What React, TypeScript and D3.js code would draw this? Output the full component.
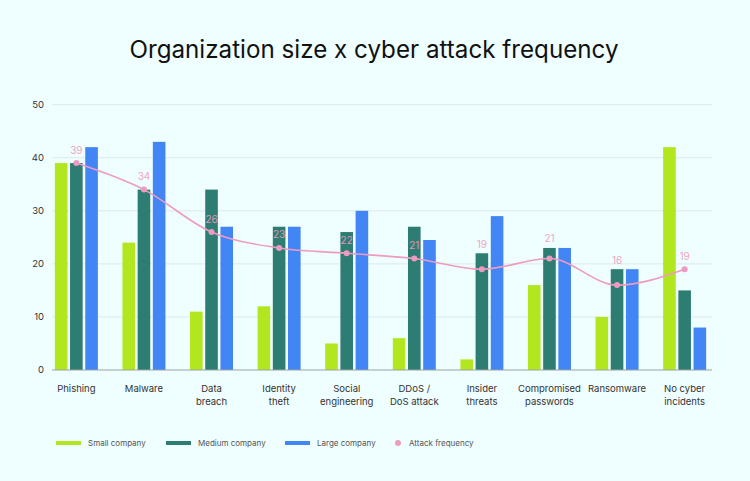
import React from "react";
import * as d3 from "d3";

const categories = [
  ["Phishing"],
  ["Malware"],
  ["Data", "breach"],
  ["Identity", "theft"],
  ["Social", "engineering"],
  ["DDoS /", "DoS attack"],
  ["Insider", "threats"],
  ["Compromised", "passwords"],
  ["Ransomware"],
  ["No cyber", "incidents"],
];
const smallCompany = [39, 24, 11, 12, 5, 6, 2, 16, 10, 42];
const mediumCompany = [39, 34, 34, 27, 26, 27, 22, 23, 19, 15];
const largeCompany = [42, 43, 27, 27, 30, 24.5, 29, 23, 19, 8];
const attackFrequency = [39, 34, 26, 23, 22, 21, 19, 21, 16, 19];
const yTicks = [0, 10, 20, 30, 40, 50];

const W = 750;
const H = 481;
const BG = "#effefe";
const C_SMALL = "#b2e61e";
const C_MED = "#2e7d73";
const C_LARGE = "#4285f4";
const C_PINK = "#ef9bc1";
const FONT = "Inter, 'Noto Sans', sans-serif";

export default function App() {
  const left = 52, right = 712, top = 104.7, bottom = 370;
  const idx = categories.map((_, i) => i);
  const x = d3.scaleBand<number>().domain(idx).range([50, 711]).paddingInner(0.36).paddingOuter(0.07);
  const y = d3.scaleLinear().domain([0, 50]).range([bottom, top]);
  const center = (i: number) => (x(i) as number) + x.bandwidth() / 2;
  const barW = 12.6;
  const gap = 2.6;
  const series = [
    { vals: smallCompany, color: C_SMALL, off: -1 },
    { vals: mediumCompany, color: C_MED, off: 0 },
    { vals: largeCompany, color: C_LARGE, off: 1 },
  ];
  const line = d3
    .line<number>()
    .x((_, i) => center(i))
    .y((d) => y(d))
    .curve(d3.curveMonotoneX);

  const labelY = (v: number, i: number) => {
    const base = y(v) - 13;
    const barTop = y(mediumCompany[i]);
    return Math.abs(base - barTop) < 6 ? barTop - 9 : base;
  };

  const legend = [
    { label: "Small company", color: C_SMALL, x: 56, type: "bar" },
    { label: "Medium company", color: C_MED, x: 166, type: "bar" },
    { label: "Large company", color: C_LARGE, x: 285, type: "bar" },
    { label: "Attack frequency", color: C_PINK, x: 398, type: "dot" },
  ];

  return (
    <svg width={W} height={H} style={{ position: "absolute", left: 0, top: 0, background: BG }} fontFamily={FONT}>
      <rect x={0} y={0} width={W} height={H} fill={BG} />
      <text x={374} y={58} textAnchor="middle" fontSize={24.2} fill="#111">
        Organization size x cyber attack frequency
      </text>
      {yTicks.map((t) => (
        <g key={t}>
          {t !== 0 && <line x1={left} x2={right} y1={y(t)} y2={y(t)} stroke="#dce9ea" strokeWidth={1} />}
          <text x={44} y={y(t)} dy="0.35em" textAnchor="end" fontSize={9.5} fill="#333">
            {t}
          </text>
        </g>
      ))}
      {series.map((s, si) =>
        s.vals.map((v, i) => (
          <rect
            key={si + "-" + i}
            x={center(i) + s.off * (barW + gap) - barW / 2}
            y={y(v)}
            width={barW}
            height={y(0) - y(v)}
            fill={s.color}
          />
        ))
      )}
      <line x1={left} x2={right} y1={y(0)} y2={y(0)} stroke="#9aa3a5" strokeWidth={1} />
      <path d={line(attackFrequency) || ""} fill="none" stroke={C_PINK} strokeWidth={1.6} />
      {attackFrequency.map((v, i) => (
        <g key={i}>
          <circle cx={center(i)} cy={y(v)} r={3} fill={C_PINK} />
          <text x={center(i)} y={labelY(v, i)} dy="0.35em" textAnchor="middle" fontSize={10} fill={C_PINK} opacity={0.9}>
            {v}
          </text>
        </g>
      ))}
      {categories.map((lines, i) => (
        <text key={i} x={center(i)} y={392} textAnchor="middle" fontSize={9.5} fill="#333">
          {lines.map((l, j) => (
            <tspan key={j} x={center(i)} dy={j === 0 ? 0 : 13}>
              {l}
            </tspan>
          ))}
        </text>
      ))}
      {legend.map((l) => (
        <g key={l.label}>
          {l.type === "bar" ? (
            <rect x={l.x} y={441} width={25} height={4} fill={l.color} />
          ) : (
            <circle cx={l.x} cy={443} r={3} fill={l.color} />
          )}
          <text x={l.type === "bar" ? l.x + 32 : l.x + 11} y={443} dy="0.35em" fontSize={8} fill="#555">
            {l.label}
          </text>
        </g>
      ))}
    </svg>
  );
}
